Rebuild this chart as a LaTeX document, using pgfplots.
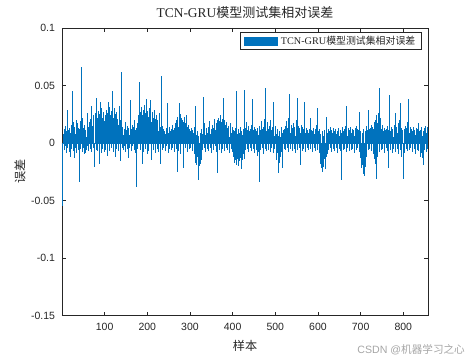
\documentclass[border=0pt]{standalone}
\usepackage{pgfplots}
\pgfplotsset{compat=1.18}
\usepackage{fontspec}
\setmainfont{Liberation Serif}
\newfontfamily\arial{Liberation Sans}
\newfontfamily\song{Noto Sans CJK SC}[Scale=0.97]
\newfontfamily\cjksans{Noto Sans CJK SC}
\definecolor{matblue}{rgb}{0,0.447,0.741}
\definecolor{axgray}{rgb}{0.15,0.15,0.15}
\definecolor{wm}{RGB}{165,165,165}
\begin{document}
\begin{tikzpicture}
\useasboundingbox (-62pt,-39.5pt) rectangle (412pt,315.5pt);
\begin{axis}[
  at={(0,0)}, anchor=south west,
  scale only axis, width=366pt, height=287.5pt,
  xmin=0, xmax=858, ymin=-0.15, ymax=0.1,
  xtick={100,200,300,400,500,600,700,800},
  xticklabels={100,200,300,400,500,600,700,800},
  ytick={-0.15,-0.1,-0.05,0,0.05,0.1},
  yticklabels={-0.15,-0.1,-0.05,0,0.05,0.1},
  tick align=inside, major tick length=3.6pt,
  tick style={axgray, line width=0.5pt},
  axis line style={axgray, line width=0.5pt},
  ticklabel style={font=\arial\fontsize{10.5}{12}\selectfont, text=axgray},
  xticklabel style={yshift=-4.5pt},
  yticklabel style={xshift=-3.5pt},
  title={{TCN-GRU}{\song\mdseries 模型测试集相对误差}},
  title style={at={(axis description cs:0.5,1.0139)}, anchor=base, font=\fontsize{13.4}{15}\selectfont, text=axgray},
  xlabel={\song 样本}, ylabel={\song 误差},
  xlabel style={at={(axis description cs:0.5,-0.106)}, anchor=center, font=\fontsize{12.5}{14}\selectfont, text=axgray},
  ylabel style={at={(axis description cs:-0.1148,0.5)}, anchor=center, font=\fontsize{12.5}{14}\selectfont, text=axgray},
  legend style={at={(axis description cs:0.981,0.986)}, anchor=north east, draw=axgray, line width=0.5pt,
    font=\fontsize{10.2}{12}\selectfont, text=axgray, inner xsep=3.5pt, inner ysep=1.5pt, column sep=2pt},
  legend image code/.code={\fill[matblue] (0pt,-4pt) rectangle (33pt,4pt);},
]
\addplot[ycomb, mark=none, color=matblue, line width=0.24pt] table[row sep=\\, header=false, x expr=\coordindex+1, y index=0] {
-0.055\\ 0.004\\ 0.008\\ -0.006\\ 0.012\\ 0.006\\ -0.003\\ 0.015\\ -0.009\\ 0.010\\ 0.005\\ 0.029\\ -0.004\\ 0.011\\ 0.007\\ -0.008\\ 0.013\\ 0.004\\ -0.012\\ 0.009\\
0.016\\ -0.005\\ 0.045\\ 0.012\\ -0.007\\ 0.018\\ 0.010\\ -0.013\\ 0.014\\ 0.008\\ -0.004\\ 0.020\\ 0.011\\ -0.009\\ 0.017\\ 0.006\\ -0.006\\ 0.013\\ 0.009\\ -0.034\\
0.012\\ 0.019\\ -0.005\\ 0.066\\ 0.015\\ -0.008\\ 0.010\\ 0.022\\ -0.004\\ 0.013\\ 0.007\\ -0.010\\ 0.016\\ -0.009\\ 0.011\\ 0.005\\ -0.006\\ 0.026\\ 0.009\\ -0.003\\
0.014\\ -0.007\\ 0.008\\ 0.018\\ -0.005\\ 0.012\\ 0.021\\ 0.032\\ -0.008\\ 0.010\\ 0.015\\ -0.004\\ 0.024\\ 0.017\\ -0.010\\ -0.021\\ 0.019\\ 0.026\\ 0.013\\ -0.006\\
0.039\\ 0.022\\ -0.007\\ 0.028\\ 0.018\\ 0.012\\ -0.018\\ 0.025\\ 0.036\\ 0.020\\ -0.009\\ 0.030\\ 0.016\\ -0.005\\ 0.022\\ 0.027\\ 0.011\\ -0.008\\ 0.019\\ 0.024\\
-0.006\\ 0.021\\ 0.029\\ 0.015\\ -0.011\\ 0.026\\ 0.018\\ 0.036\\ 0.023\\ -0.007\\ 0.031\\ 0.014\\ 0.024\\ -0.004\\ 0.019\\ 0.028\\ 0.012\\ 0.045\\ -0.008\\ 0.022\\
0.017\\ 0.030\\ 0.013\\ -0.012\\ 0.025\\ 0.019\\ -0.005\\ 0.027\\ 0.014\\ 0.021\\ -0.007\\ 0.016\\ 0.024\\ 0.010\\ 0.032\\ -0.016\\ 0.020\\ 0.062\\ 0.011\\ -0.004\\
0.009\\ 0.014\\ -0.006\\ 0.007\\ 0.012\\ -0.003\\ 0.018\\ 0.006\\ -0.008\\ 0.011\\ 0.004\\ 0.015\\ -0.005\\ 0.009\\ -0.013\\ 0.013\\ 0.007\\ -0.004\\ 0.037\\ 0.010\\
-0.007\\ 0.012\\ 0.005\\ 0.016\\ -0.003\\ 0.009\\ 0.014\\ -0.006\\ 0.008\\ 0.020\\ 0.011\\ -0.009\\ -0.038\\ 0.013\\ 0.006\\ 0.017\\ -0.005\\ 0.010\\ 0.024\\ 0.053\\
0.015\\ -0.006\\ 0.022\\ 0.027\\ 0.018\\ 0.031\\ -0.018\\ 0.024\\ 0.020\\ -0.008\\ 0.029\\ 0.017\\ 0.033\\ 0.021\\ -0.005\\ 0.026\\ 0.038\\ 0.019\\ -0.010\\ 0.028\\
0.023\\ 0.016\\ -0.007\\ 0.030\\ 0.020\\ 0.037\\ 0.025\\ -0.004\\ 0.018\\ -0.015\\ 0.027\\ 0.014\\ 0.022\\ -0.006\\ 0.019\\ 0.029\\ 0.012\\ -0.009\\ 0.021\\ 0.016\\
0.024\\ -0.005\\ 0.013\\ 0.020\\ 0.010\\ -0.008\\ 0.017\\ 0.026\\ 0.011\\ -0.018\\ 0.014\\ 0.022\\ 0.058\\ 0.015\\ -0.006\\ 0.009\\ 0.012\\ -0.004\\ 0.007\\ 0.010\\
-0.007\\ 0.008\\ 0.013\\ 0.005\\ -0.003\\ 0.011\\ 0.035\\ 0.009\\ -0.009\\ 0.006\\ 0.014\\ -0.005\\ 0.010\\ 0.004\\ 0.012\\ -0.006\\ 0.008\\ 0.016\\ -0.004\\ 0.007\\
0.011\\ 0.005\\ -0.008\\ 0.013\\ 0.009\\ 0.017\\ -0.005\\ 0.020\\ -0.025\\ 0.023\\ 0.018\\ 0.014\\ -0.007\\ 0.021\\ 0.035\\ 0.016\\ 0.025\\ -0.010\\ 0.019\\ 0.022\\
0.015\\ 0.020\\ -0.006\\ -0.022\\ 0.018\\ 0.013\\ 0.023\\ -0.004\\ 0.017\\ 0.011\\ 0.019\\ 0.024\\ -0.008\\ 0.014\\ 0.009\\ 0.016\\ -0.005\\ 0.012\\ 0.007\\ 0.010\\
-0.004\\ 0.008\\ 0.013\\ 0.006\\ -0.007\\ 0.011\\ 0.005\\ 0.009\\ -0.010\\ 0.014\\ -0.013\\ 0.032\\ -0.017\\ 0.007\\ -0.019\\ -0.012\\ 0.010\\ -0.032\\ -0.016\\ 0.006\\
-0.020\\ -0.014\\ 0.009\\ -0.018\\ -0.011\\ 0.012\\ -0.015\\ 0.008\\ -0.006\\ 0.015\\ 0.040\\ 0.011\\ -0.004\\ 0.017\\ 0.007\\ -0.008\\ 0.013\\ 0.006\\ 0.010\\ -0.005\\
0.009\\ 0.014\\ -0.007\\ 0.006\\ 0.011\\ 0.019\\ -0.004\\ 0.008\\ 0.012\\ -0.009\\ 0.016\\ 0.005\\ 0.010\\ -0.006\\ 0.013\\ 0.021\\ 0.008\\ -0.003\\ 0.011\\ 0.007\\
-0.008\\ 0.017\\ 0.020\\ -0.026\\ 0.014\\ 0.022\\ 0.016\\ -0.006\\ 0.019\\ 0.013\\ 0.024\\ -0.009\\ 0.018\\ 0.015\\ 0.021\\ -0.005\\ 0.017\\ 0.039\\ 0.012\\ 0.020\\
-0.007\\ 0.016\\ 0.011\\ 0.018\\ -0.004\\ 0.013\\ 0.008\\ -0.006\\ 0.010\\ 0.015\\ 0.005\\ -0.009\\ 0.012\\ 0.007\\ 0.017\\ -0.005\\ 0.009\\ 0.014\\ -0.008\\ 0.011\\
0.006\\ -0.012\\ 0.010\\ -0.017\\ 0.013\\ -0.015\\ -0.009\\ 0.045\\ -0.019\\ 0.008\\ -0.014\\ 0.012\\ -0.020\\ -0.011\\ 0.009\\ -0.016\\ 0.014\\ -0.013\\ -0.018\\ 0.010\\
-0.023\\ 0.007\\ -0.015\\ -0.010\\ 0.012\\ -0.014\\ 0.046\\ 0.009\\ -0.006\\ 0.013\\ 0.006\\ 0.018\\ -0.005\\ 0.011\\ 0.008\\ -0.008\\ 0.015\\ 0.005\\ 0.010\\ -0.004\\
0.012\\ 0.007\\ -0.007\\ 0.016\\ 0.009\\ 0.038\\ -0.005\\ 0.011\\ 0.006\\ -0.009\\ 0.014\\ 0.008\\ 0.012\\ -0.006\\ 0.005\\ 0.010\\ -0.011\\ 0.013\\ 0.007\\ -0.008\\
-0.034\\ 0.009\\ 0.015\\ -0.006\\ 0.011\\ 0.006\\ 0.019\\ -0.004\\ 0.012\\ 0.008\\ -0.010\\ 0.014\\ 0.021\\ 0.007\\ -0.005\\ 0.016\\ 0.048\\ 0.010\\ -0.007\\ 0.013\\
0.018\\ 0.008\\ -0.006\\ 0.012\\ 0.005\\ 0.015\\ -0.008\\ 0.010\\ 0.020\\ -0.004\\ 0.011\\ 0.007\\ 0.014\\ -0.009\\ 0.036\\ 0.012\\ 0.006\\ -0.005\\ 0.010\\ 0.015\\
-0.011\\ 0.008\\ -0.015\\ 0.012\\ -0.009\\ 0.006\\ -0.026\\ -0.013\\ 0.010\\ -0.017\\ 0.005\\ -0.012\\ 0.014\\ -0.008\\ -0.022\\ 0.009\\ -0.010\\ 0.011\\ 0.006\\ -0.005\\
0.012\\ 0.008\\ -0.006\\ 0.015\\ 0.010\\ 0.019\\ -0.004\\ 0.013\\ 0.007\\ 0.022\\ -0.008\\ 0.043\\ 0.014\\ 0.009\\ -0.005\\ 0.016\\ 0.011\\ 0.006\\ -0.007\\ 0.013\\
0.008\\ 0.017\\ -0.005\\ 0.010\\ 0.014\\ 0.006\\ -0.009\\ 0.012\\ 0.020\\ 0.009\\ 0.039\\ -0.006\\ 0.011\\ 0.015\\ 0.007\\ -0.004\\ 0.013\\ -0.019\\ 0.009\\ 0.016\\
0.010\\ -0.007\\ 0.014\\ 0.008\\ 0.012\\ -0.005\\ 0.018\\ 0.036\\ 0.009\\ -0.008\\ 0.006\\ 0.013\\ 0.007\\ -0.004\\ 0.011\\ 0.005\\ 0.009\\ -0.006\\ 0.012\\ 0.008\\
0.022\\ -0.005\\ 0.007\\ 0.011\\ 0.004\\ -0.008\\ 0.010\\ 0.006\\ 0.013\\ -0.004\\ 0.008\\ 0.005\\ 0.012\\ -0.007\\ 0.009\\ 0.016\\ 0.006\\ 0.030\\ -0.006\\ 0.010\\
0.007\\ -0.009\\ 0.012\\ -0.013\\ -0.018\\ 0.008\\ -0.022\\ -0.015\\ 0.010\\ -0.025\\ -0.019\\ 0.006\\ -0.021\\ -0.014\\ 0.011\\ -0.017\\ -0.023\\ 0.007\\ -0.012\\ 0.023\\
-0.010\\ 0.009\\ 0.005\\ -0.006\\ 0.012\\ 0.007\\ 0.010\\ -0.004\\ 0.014\\ 0.006\\ -0.008\\ 0.011\\ 0.005\\ 0.009\\ -0.005\\ 0.013\\ 0.008\\ -0.007\\ 0.010\\ 0.006\\
0.012\\ -0.004\\ 0.008\\ 0.005\\ 0.010\\ -0.009\\ 0.007\\ 0.013\\ -0.005\\ 0.006\\ 0.011\\ 0.004\\ -0.007\\ -0.032\\ 0.009\\ 0.014\\ 0.006\\ -0.006\\ 0.010\\ 0.007\\
-0.005\\ 0.012\\ 0.008\\ 0.015\\ -0.008\\ 0.032\\ 0.010\\ 0.006\\ -0.004\\ 0.013\\ 0.009\\ 0.005\\ -0.007\\ 0.011\\ 0.007\\ 0.014\\ -0.006\\ 0.009\\ 0.005\\ 0.012\\
-0.005\\ 0.008\\ 0.011\\ 0.006\\ -0.009\\ 0.013\\ 0.007\\ 0.010\\ -0.006\\ 0.015\\ 0.009\\ -0.004\\ 0.012\\ 0.006\\ 0.011\\ 0.027\\ -0.008\\ 0.010\\ -0.013\\ 0.007\\
-0.016\\ -0.022\\ 0.009\\ -0.019\\ -0.027\\ 0.012\\ -0.024\\ -0.029\\ -0.015\\ -0.021\\ 0.010\\ -0.012\\ 0.015\\ -0.008\\ 0.011\\ 0.006\\ -0.006\\ 0.029\\ 0.012\\ 0.008\\
-0.005\\ 0.013\\ 0.009\\ 0.016\\ -0.007\\ 0.011\\ 0.006\\ 0.014\\ -0.010\\ 0.012\\ -0.014\\ 0.018\\ 0.010\\ -0.018\\ 0.020\\ -0.031\\ 0.024\\ 0.017\\ -0.012\\ 0.021\\
0.026\\ 0.019\\ -0.008\\ 0.048\\ 0.022\\ 0.015\\ -0.006\\ 0.012\\ 0.008\\ 0.016\\ -0.005\\ 0.010\\ 0.006\\ 0.013\\ -0.009\\ 0.007\\ 0.011\\ 0.005\\ -0.004\\ 0.012\\
0.009\\ 0.015\\ -0.007\\ 0.011\\ -0.022\\ 0.018\\ 0.042\\ 0.013\\ -0.006\\ 0.010\\ 0.007\\ 0.014\\ -0.009\\ 0.008\\ 0.012\\ 0.005\\ -0.005\\ 0.010\\ 0.016\\ 0.026\\
-0.008\\ 0.011\\ 0.006\\ 0.014\\ -0.005\\ 0.009\\ 0.017\\ 0.007\\ -0.010\\ 0.012\\ 0.020\\ 0.035\\ -0.006\\ 0.013\\ 0.008\\ -0.012\\ 0.011\\ 0.006\\ -0.016\\ -0.031\\
0.012\\ 0.007\\ -0.009\\ 0.015\\ 0.010\\ -0.005\\ 0.013\\ 0.006\\ 0.018\\ -0.007\\ 0.011\\ 0.038\\ 0.009\\ -0.006\\ 0.014\\ 0.007\\ -0.004\\ 0.012\\ 0.005\\ 0.010\\
-0.008\\ 0.009\\ 0.014\\ 0.006\\ -0.005\\ 0.011\\ 0.007\\ -0.010\\ 0.013\\ 0.008\\ 0.005\\ -0.006\\ 0.012\\ 0.009\\ 0.017\\ -0.007\\ 0.010\\ 0.006\\ -0.012\\ 0.011\\
0.008\\ -0.009\\ 0.014\\ 0.006\\ -0.013\\ 0.010\\ -0.019\\ 0.013\\ 0.007\\ -0.006\\ 0.011\\ 0.015\\ -0.008\\ 0.009\\ 0.012\\ -0.005\\ 0.014\\
};
\addlegendentry{{TCN-GRU}{\song 模型测试集相对误差}}
\addplot[forget plot, color=matblue, line width=0.9pt] coordinates {(0,0) (858,0)};
\end{axis}
\node[anchor=east, text=wm, font=\fontsize{10.6}{12}\selectfont, inner sep=0pt] at (403pt,-34pt) {{\arial CSDN @}{\cjksans 机器学习之心}};
\end{tikzpicture}
\end{document}
